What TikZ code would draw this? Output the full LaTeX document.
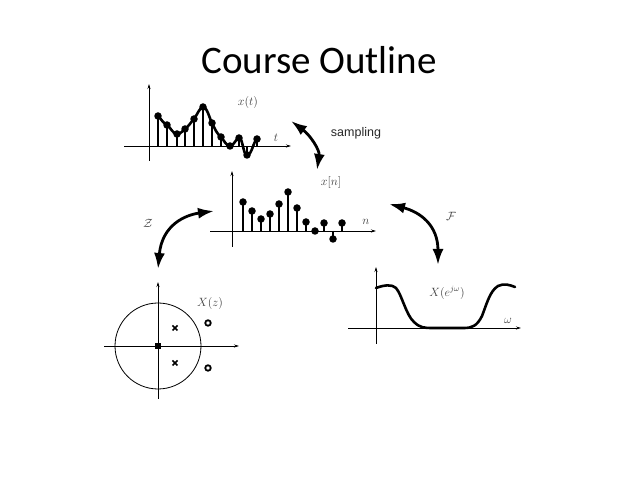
\documentclass[tikz,border=0pt]{standalone}
\usepackage{fontspec}
\setmainfont{Carlito}
\newfontfamily\sampfont{Liberation Sans}
\usepackage{amsmath}
\usetikzlibrary{arrows.meta}
\begin{document}
\begin{tikzpicture}[x=1pt,y=-1pt,
  axis/.style={line width=0.7pt,-{Stealth[length=5pt,width=3pt]}},
  stem/.style={line width=1.7pt},
  dot/.style={circle,fill=black,inner sep=0pt,minimum size=7.5pt},
  curve/.style={line width=2.6pt,line cap=round,line join=round},
  bigarrow/.style={line width=2.8pt,{Latex[length=16pt,width=11pt]}-{Latex[length=16pt,width=11pt]}},
  cross/.style={line width=1.5pt},
  lab/.style={font=\fontsize{12}{14}\selectfont,text=black!75,inner sep=0pt}]
\useasboundingbox (0,0) rectangle (638,478);
\node[font=\fontsize{39}{44}\selectfont] (title) at (319,60) {Course Outline};

% ---- x(t)
\coordinate (ta1) at (149,161); \coordinate (ta2) at (149,84);
\coordinate (tb1) at (124,146); \coordinate (tb2) at (291,146);
\draw[axis] (ta1) -- (ta2);
\draw[axis] (tb1) -- (tb2);
\foreach \x/\y [count=\i] in {158/116,167/125,177/134,185/129,194/119,203/107,212/123,221/137,230/146,239/138,247/155,257/139}{
  \draw[stem] (\x,146) -- (\x,\y);
  \node[dot] (s\i) at (\x,\y) {};
}
\draw[curve] (158,116) .. controls (162,120) and (163,123) .. (167,125)
  .. controls (171,128) and (173,134) .. (177,134)
  .. controls (181,134) and (182,131) .. (185,129)
  .. controls (189,126) and (191,122) .. (194,119)
  .. controls (197,115) and (200,107) .. (203,107)
  .. controls (207,107) and (209,117) .. (212,123)
  .. controls (215,129) and (217,134) .. (221,137)
  .. controls (224,140) and (226,146) .. (230,146)
  .. controls (234,146) and (236,138) .. (239,138)
  .. controls (243,138) and (243,155) .. (247,155)
  .. controls (252,155) and (253,142) .. (257,139);
\node[lab] (xt) at (248,103) {$x(t)$};
\node[lab] (tl) at (276,138) {$t$};

% sampling arrow
\coordinate (sa1) at (291,121); \coordinate (sa2) at (317,170);
\draw[bigarrow] (sa1) .. controls (310,135) and (320,150) .. (sa2);
\node[font=\sampfont\fontsize{12.5}{14}\selectfont,text=black!85,inner sep=0pt] (samp) at (356,133) {sampling};

% ---- x[n]
\coordinate (na1) at (232,247); \coordinate (na2) at (232,171);
\coordinate (nb1) at (210,231); \coordinate (nb2) at (376,231);
\draw[axis] (na1) -- (na2);
\draw[axis] (nb1) -- (nb2);
\foreach \x/\y [count=\i] in {243/202,252/211,261/219,270/214,279/204,288/192,297/208,306/222,315/231,324/223,333/239,342/223}{
  \draw[stem] (\x,231) -- (\x,\y);
  \node[dot] (n\i) at (\x,\y) {};
}
\node[lab] (xn) at (331,183) {$x[n]$};
\node[lab] (nl) at (366,222) {$n$};

% Z arrow
\coordinate (za1) at (214,211); \coordinate (za2) at (158,269);
\draw[bigarrow] (za1) .. controls (185,215) and (162,225) .. (za2);
\node[lab] (zl) at (148,223) {$\mathcal{Z}$};

% F arrow
\coordinate (fa1) at (389,204); \coordinate (fa2) at (438,265);
\draw[bigarrow] (fa1) .. controls (420,212) and (438,225) .. (fa2);
\node[lab] (fl) at (451,216) {$\mathcal{F}$};

% ---- z-plane
\coordinate (zc) at (158,346);
\coordinate (zv1) at (158,399); \coordinate (zv2) at (158,282);
\coordinate (zh1) at (104,346); \coordinate (zh2) at (239,346);
\draw[axis] (zv1) -- (zv2);
\draw[axis] (zh1) -- (zh2);
\draw[line width=0.8pt] (zc) circle[radius=43];
\node[fill=black,inner sep=0pt,minimum size=6pt] (zero0) at (zc) {};
\coordinate (p1) at (175,328);
\coordinate (p2) at (175,363);
\foreach \p in {p1,p2}{
  \draw[cross] ([shift={(-2.5,-2.5)}]\p) -- ([shift={(2.5,2.5)}]\p);
  \draw[cross] ([shift={(-2.5,2.5)}]\p) -- ([shift={(2.5,-2.5)}]\p);
}
\node[draw,circle,line width=1.8pt,inner sep=0pt,minimum size=5.5pt] (z1) at (208,323) {};
\node[draw,circle,line width=1.8pt,inner sep=0pt,minimum size=5.5pt] (z2) at (208,368) {};
\node[lab] (xz) at (210,304) {$X(z)$};

% ---- X(e^jw)
\coordinate (wa1) at (376,344); \coordinate (wa2) at (376,267);
\coordinate (wb1) at (348,328); \coordinate (wb2) at (521,328);
\draw[axis] (wa1) -- (wa2);
\draw[axis] (wb1) -- (wb2);
\draw[curve] (376,288) .. controls (384,285) and (392,284) .. (396,288)
  .. controls (402,295) and (406,315) .. (414,322)
  .. controls (420,328) and (425,328) .. (432,328)
  -- (464,328)
  .. controls (472,328) and (477,326) .. (482,316)
  .. controls (487,303) and (490,291) .. (498,286)
  .. controls (504,283) and (510,285) .. (515,287);
\node[lab] (xw) at (447,293) {$X(e^{j\omega})$};
\node[lab] (wl) at (508,321) {$\omega$};
\end{tikzpicture}
\end{document}
